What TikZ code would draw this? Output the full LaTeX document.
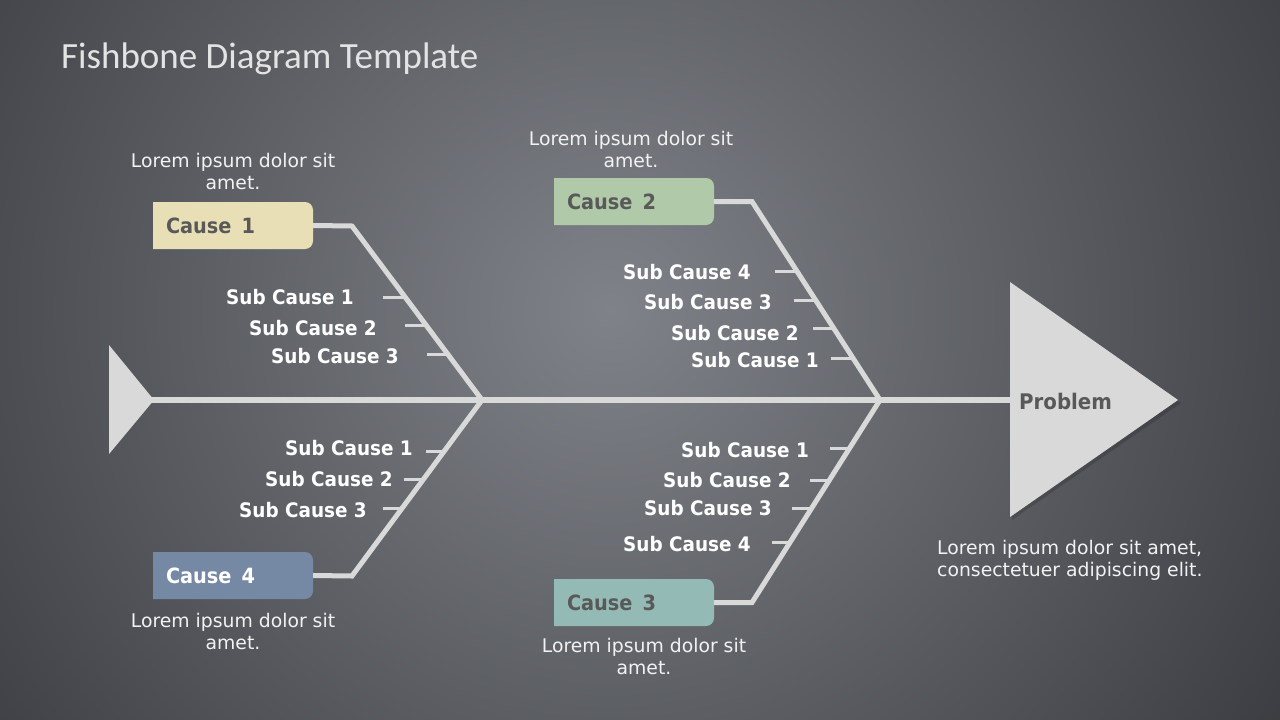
\documentclass[tikz,border=0pt]{standalone}
\usepackage{fontspec}
\setmainfont{DejaVu Sans}
\newfontfamily\bnarrow{DejaVu Sans}[FakeStretch=0.92]
\newfontfamily\titlefont{Carlito}
\usetikzlibrary{calc}
\definecolor{bgin}{HTML}{7F8288}
\definecolor{bgout}{HTML}{36383C}
\definecolor{bonecol}{HTML}{D9D9D9}
\definecolor{darktext}{HTML}{595959}
\definecolor{loremcol}{HTML}{F2F2F2}
\definecolor{titlecol}{HTML}{E3E3E3}
\definecolor{cone}{HTML}{E9DFB6}
\definecolor{ctwo}{HTML}{B0C9A8}
\definecolor{cthree}{HTML}{93BAB4}
\definecolor{cfour}{HTML}{7689A4}
\begin{document}
\begin{tikzpicture}[x=1pt,y=-1pt,
  bone/.style={draw=bonecol, line width=5pt},
  tickline/.style={draw=bonecol, line width=3pt},
  sublabel/.style={anchor=east, inner sep=0pt, text=white, font=\bnarrow\bfseries\fontsize{20}{24}\selectfont},
  lorem/.style={align=center, inner sep=0pt, text=loremcol, font=\fontsize{18.8}{22}\selectfont},
  causebox/.style={minimum width=160pt, minimum height=47pt, inner xsep=13pt, inner ysep=0pt,
    text width=134pt, align=left, font=\bnarrow\bfseries\fontsize{21}{24}\selectfont,
    path picture={\fill[#1] (path picture bounding box.south west) -- (path picture bounding box.north west)
      -- ([xshift=-8pt]path picture bounding box.north east) arc[start angle=90,end angle=0,radius=8pt]
      -- ([yshift=8pt]path picture bounding box.south east) arc[start angle=0,end angle=-90,radius=8pt] -- cycle;}}
]
\useasboundingbox (0,0) rectangle (1280,720);
\begin{scope}
  \clip (0,0) rectangle (1280,720);
  \fill[bgout] (0,0) rectangle (1280,720);
  \shade[inner color=bgin, outer color=bgout] (610,310) circle[radius=850pt];
\end{scope}

% title
\node[anchor=base west, inner sep=0pt, text=titlecol, font=\titlefont\fontsize{37}{40}\selectfont] (title) at (61,68) {Fishbone Diagram Template};

% tail and head
\coordinate (tailtip) at (150,400);
\fill[bonecol] (109,345) -- (154,400) -- (109,454) -- cycle;
\coordinate (headbase) at (1012,400);
\fill[black, opacity=0.15] (1012,285) -- (1181,403) -- (1012,520) -- cycle;
\fill[bonecol] (1010,282) -- (1178,400) -- (1010,517) -- cycle;
\node[anchor=west, inner sep=0pt, text=darktext, font=\bnarrow\bfseries\fontsize{21.5}{24}\selectfont] (problem) at (1019,401) {Problem};

% spine
\coordinate (j1) at (482,400);
\coordinate (j2) at (880,400);
\draw[bonecol, line width=5.5pt] (tailtip) -- (headbase);

% cause boxes
\node[causebox=cone, text=darktext] (c1) at (233,225.5) {Cause\hspace{10pt}1};
\node[causebox=ctwo, text=darktext] (c2) at (634,201.5) {Cause\hspace{10pt}2};
\node[causebox=cthree, text=darktext] (c3) at (634,602.5) {Cause\hspace{10pt}3};
\node[causebox=cfour, text=white] (c4) at (233,575.5) {Cause\hspace{10pt}4};

% bones
\draw[bone] (c1.east) -- (352,226) -- (j1);
\draw[bone] (c4.east) -- (352,576) -- (j1);
\draw[bone] (c2.east) -- (752,201.5) -- (j2);
\draw[bone] (c3.east) -- (752,602.5) -- (j2);

% cause 1 sub causes
\node[sublabel] (a1) at (354,297) {Sub Cause 1};
\node[sublabel] (a2) at (377,328) {Sub Cause 2};
\node[sublabel] (a3) at (399,356) {Sub Cause 3};
\draw[tickline] (383,297) -- (405,297);
\draw[tickline] (405,325) -- (426,325);
\draw[tickline] (427,354) -- (448,354);

% cause 4 sub causes
\node[sublabel] (d1) at (413,448) {Sub Cause 1};
\node[sublabel] (d2) at (393,479) {Sub Cause 2};
\node[sublabel] (d3) at (367,510) {Sub Cause 3};
\draw[tickline] (426,451) -- (444,451);
\draw[tickline] (404,479) -- (424,479);
\draw[tickline] (383,508) -- (402,508);

% cause 2 sub causes
\node[sublabel] (b4) at (751,272) {Sub Cause 4};
\node[sublabel] (b3) at (772,302) {Sub Cause 3};
\node[sublabel] (b2) at (799,333) {Sub Cause 2};
\node[sublabel] (b1) at (819,360) {Sub Cause 1};
\draw[tickline] (775,271) -- (797,271);
\draw[tickline] (794,300) -- (816,300);
\draw[tickline] (813,328) -- (834,328);
\draw[tickline] (831,358) -- (853,358);

% cause 3 sub causes
\node[sublabel] (e1) at (809,450) {Sub Cause 1};
\node[sublabel] (e2) at (791,480) {Sub Cause 2};
\node[sublabel] (e3) at (772,508) {Sub Cause 3};
\node[sublabel] (e4) at (751,544) {Sub Cause 4};
\draw[tickline] (830,448) -- (850,448);
\draw[tickline] (810,480) -- (829,480);
\draw[tickline] (792,508) -- (812,508);
\draw[tickline] (772,542) -- (790,542);

% descriptions
\node[lorem] (l1) at (233,171) {Lorem ipsum dolor sit\\amet.};
\node[lorem] (l2) at (631,149) {Lorem ipsum dolor sit\\amet.};
\node[lorem] (l4) at (233,631) {Lorem ipsum dolor sit\\amet.};
\node[lorem] (l3) at (644,656) {Lorem ipsum dolor sit\\amet.};
\node[lorem, align=left, anchor=west] (lp) at (937,560) {Lorem ipsum dolor sit amet,\\consectetuer adipiscing elit.};
\end{tikzpicture}
\end{document}
